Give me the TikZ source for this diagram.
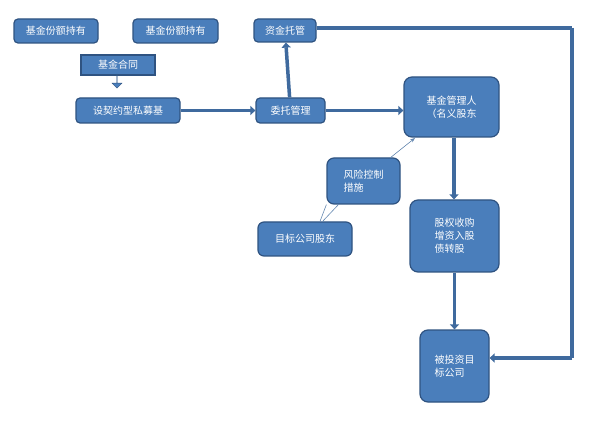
\documentclass[tikz,border=0pt]{standalone}
\usepackage{fontspec}
\setmainfont{Noto Sans CJK SC}
\usetikzlibrary{arrows.meta,shapes.arrows}
\definecolor{bf}{HTML}{4A7EBB}
\definecolor{bd}{HTML}{2F5381}
\definecolor{ln}{HTML}{3F6A9E}
\begin{document}
\begin{tikzpicture}[x=1pt,y=-1pt,
 box/.style={draw=bd,line width=1.2pt,fill=bf,rounded corners=4pt,text=white,font=\fontsize{10}{13}\selectfont,inner sep=2pt},
 thick/.style={draw=ln,line width=3.5pt,-{Triangle[length=5pt,width=9pt]}},
 thin/.style={draw=ln!80,line width=0.6pt}]
\useasboundingbox (0,0) rectangle (606,433);
\fill[white] (0,0) rectangle (606,433);
\node[box,minimum width=84pt,minimum height=24pt] (a1) at (56,31) {基金份额持有};
\node[box,minimum width=85pt,minimum height=24pt] (a2) at (175.5,31) {基金份额持有};
\node[box,minimum width=62pt,minimum height=23pt] (zj) at (285,30.5) {资金托管};
\node[box,rounded corners=0pt,minimum width=74pt,minimum height=20pt] (ht) at (118,65) {基金合同};
\node[single arrow,shape border rotate=270,fill=bf,draw=bd,minimum height=14pt,single arrow head extend=4pt,minimum width=10pt,inner sep=0pt] (dn) at (117,81) {};
\node[box,minimum width=104pt,minimum height=25pt] (sq) at (128,110.5) {设契约型私募基};
\node[box,minimum width=69pt,minimum height=25pt] (wt) at (290.5,110.5) {委托管理};
\node[box,minimum width=95pt,minimum height=60pt,rounded corners=8pt,align=left] (gl) at (451.5,107) {基金管理人\\（名义股东};
\node[box,minimum width=73pt,minimum height=46pt,rounded corners=7pt,align=left] (fx) at (363.5,181) {风险控制\\措施};
\node[box,minimum width=94pt,minimum height=34pt,rounded corners=6pt] (mb) at (305,239) {目标公司股东};
\node[box,minimum width=89pt,minimum height=72pt,rounded corners=8pt,align=left] (gq) at (454.5,236) {股权收购\\增资入股\\债转股};
\node[box,minimum width=69pt,minimum height=72pt,rounded corners=8pt,align=left] (bt) at (454.5,366) {被投资目\\标公司};
\coordinate (c1) at (572,28);
\coordinate (c2) at (572,358);
\draw[thick] (sq) -- (wt);
\draw[thick] (wt.east) -- (gl.west|-wt.east);
\draw[thick] (wt) -- (zj);
\draw[thick] (gl.south-|454,0) -- (gq.north-|454,0);
\draw[thick] (gq) -- (bt);
\draw[thick,-] (zj.east|-c1) -- (c1);
\draw[thick,-] (c1) -- (c2);
\draw[thick] (c2) -- (bt.east|-c2);
\draw[thin] (mb.north) ++(15,0) -- (fx.south west) ++ (12,0);
\draw[thin] (322,222) -- (339,204);
\draw[thin,-{Stealth[length=5pt]}] (390,158) -- (415,138);
\end{tikzpicture}
\end{document}
